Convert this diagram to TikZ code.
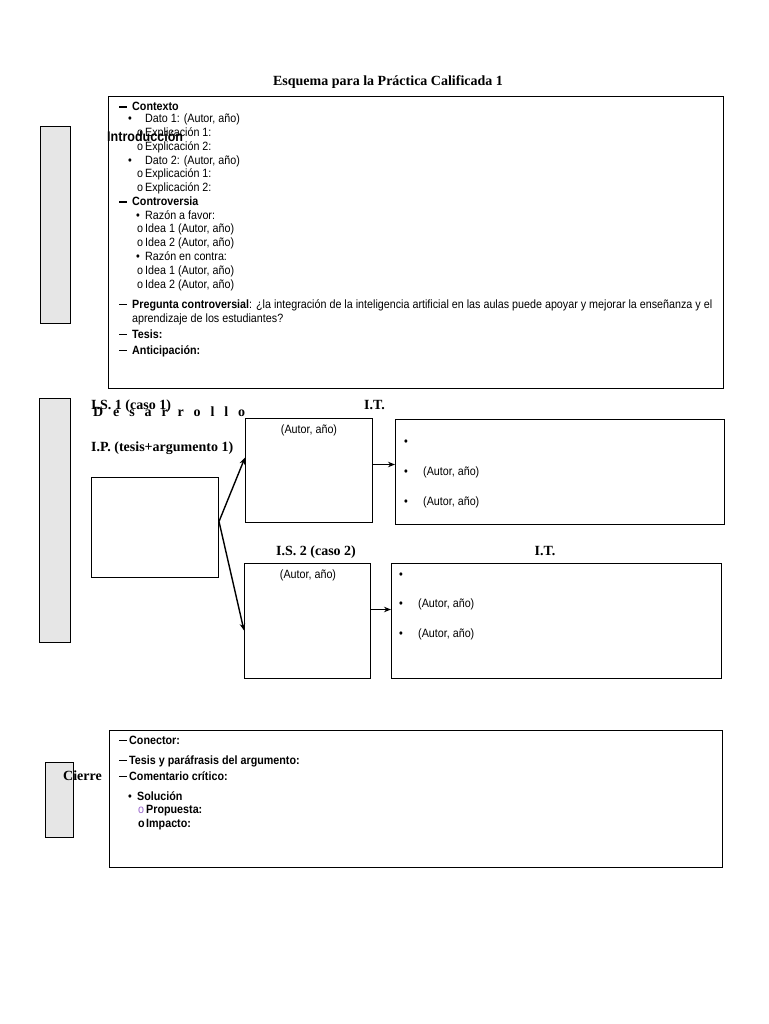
\documentclass[tikz,border=0pt]{standalone}
\usepackage{fontspec}
\setmainfont{Liberation Serif}
\newfontfamily\nar[FakeStretch=0.895]{Liberation Sans}
\usetikzlibrary{arrows.meta}
\definecolor{barfill}{HTML}{E6E6E6}
\definecolor{purp}{HTML}{9966CC}
\newcommand\itemline[6]{\node[t] (#1m) at (#2,#5) {#3}; \node[t] (#1) at (#4,#5) {#6};}
\newcommand\dsh{\rule[3.2pt]{8pt}{1.3pt}}
\begin{document}
\begin{tikzpicture}[x=1pt,y=-1pt,
  t/.style={anchor=base west, inner sep=0, font=\nar\fontsize{12}{14}\selectfont},
  box/.style={draw, line width=1pt, anchor=north west, inner sep=0},
  bar/.style={draw, fill=barfill, line width=1pt, anchor=north west, inner sep=0},
  hd/.style={anchor=base west, inner sep=0, font=\bfseries\fontsize{14}{16}\selectfont},
  hdc/.style={anchor=base, inner sep=0, font=\bfseries\fontsize{14}{16}\selectfont},
  arr/.style={-{Stealth[length=7pt,width=5.5pt]}, line width=1.4pt}]
\useasboundingbox (0,0) rectangle (768,1024);
\node[hdc] (title) at (388,86) {Esquema para la Práctica Calificada 1};
% Introduccion
\node[box, minimum width=615pt, minimum height=292pt] (intro) at (108,96) {};
\node[bar, minimum width=30pt, minimum height=197pt] (bar1) at (40,126) {};
\node[t, font=\nar\bfseries\fontsize{14}{16}\selectfont] (introlab) at (107,142) {Introducción};
\itemline{a1}{119}{\dsh}{132}{111}{\textbf{Contexto}}
\itemline{a2}{128}{\textbullet}{145}{123}{Dato 1: (Autor, año)}
\itemline{a3}{137}{o}{145}{137}{Explicación 1:}
\itemline{a4}{137}{o}{145}{151}{Explicación 2:}
\itemline{a5}{128}{\textbullet}{145}{165}{Dato 2: (Autor, año)}
\itemline{a6}{137}{o}{145}{178}{Explicación 1:}
\itemline{a7}{137}{o}{145}{192}{Explicación 2:}
\itemline{a8}{119}{\dsh}{132}{206}{\textbf{Controversia}}
\itemline{a9}{136}{\textbullet}{145}{220}{Razón a favor:}
\itemline{a10}{137}{o}{145}{233}{Idea 1 (Autor, año)}
\itemline{a11}{137}{o}{145}{246}{Idea 2 (Autor, año)}
\itemline{a12}{136}{\textbullet}{145}{260}{Razón en contra:}
\itemline{a13}{137}{o}{145}{274}{Idea 1 (Autor, año)}
\itemline{a14}{137}{o}{145}{288}{Idea 2 (Autor, año)}
\itemline{a15}{119}{\dsh}{132}{308}{\textbf{Pregunta controversial}: ¿la integración de la inteligencia artificial en las aulas puede apoyar y mejorar la enseñanza y el}
\node[t] (a16) at (132,322) {aprendizaje de los estudiantes?};
\itemline{a17}{119}{\dsh}{132}{338}{\textbf{Tesis:}}
\itemline{a18}{119}{\dsh}{132}{354}{\textbf{Anticipación:}}
% Desarrollo
\node[bar, minimum width=31pt, minimum height=244pt] (bar2) at (39,398) {};
\node[hd] (is1lab) at (91,409) {I.S. 1 (caso 1)};
\node[hd] (deslab) at (93,416) {\makebox[152pt][s]{D e s a r r o l l o}};
\node[hd] (it1lab) at (364,409) {I.T.};
\node[hd] (iplab) at (91,451) {I.P. (tesis+argumento 1)};
\node[box, minimum width=127pt, minimum height=100pt] (ip) at (91,477) {};
\node[box, minimum width=127pt, minimum height=104pt] (is1) at (245,418) {};
\node[t, anchor=base] (is1t) at (309,433) {(Autor, año)};
\node[box, minimum width=329pt, minimum height=105pt] (it1) at (395,419) {};
\itemline{b1}{404}{\textbullet}{423}{445}{}
\itemline{b2}{404}{\textbullet}{423}{475}{(Autor, año)}
\itemline{b3}{404}{\textbullet}{423}{505}{(Autor, año)}
\node[hdc] (is2lab) at (316,555) {I.S. 2 (caso 2)};
\node[hdc] (it2lab) at (545,555) {I.T.};
\node[box, minimum width=126pt, minimum height=115pt] (is2) at (244,563) {};
\node[t, anchor=base] (is2t) at (308,578) {(Autor, año)};
\node[box, minimum width=330pt, minimum height=115pt] (it2) at (391,563) {};
\itemline{c1}{399}{\textbullet}{418}{578}{}
\itemline{c2}{399}{\textbullet}{418}{607}{(Autor, año)}
\itemline{c3}{399}{\textbullet}{418}{637}{(Autor, año)}
\draw[arr] ([yshift=6pt]is1.east) -- ([yshift=6pt]is1.east -| it1.west);
\draw[arr] ([yshift=11.5pt]is2.east) -- ([yshift=11.5pt]is2.east -| it2.west);
\coordinate (ipout) at ([yshift=6pt]ip.east);
\draw[arr] (ipout) -- ([yshift=13pt]is1.west);
\draw[arr] (ipout) -- ([yshift=-9.5pt]is2.west);
% Cierre
\node[bar, minimum width=28pt, minimum height=75pt] (bar3) at (45,762) {};
\node[hd] (cierrelab) at (63,780) {Cierre};
\node[box, minimum width=613pt, minimum height=137pt] (cierre) at (109,730) {};
\itemline{d1}{119}{\dsh}{129}{744}{\textbf{Conector:}}
\itemline{d2}{119}{\dsh}{129}{764}{\textbf{Tesis y paráfrasis del argumento:}}
\itemline{d3}{119}{\dsh}{129}{780}{\textbf{Comentario crítico:}}
\itemline{d4}{128}{\textbullet}{137}{800}{\textbf{Solución}}
\itemline{d5}{138}{\textcolor{purp}{o}}{146}{813}{\textbf{Propuesta:}}
\itemline{d6}{138}{\textbf{o}}{146}{827}{\textbf{Impacto:}}
\end{tikzpicture}
\end{document}
